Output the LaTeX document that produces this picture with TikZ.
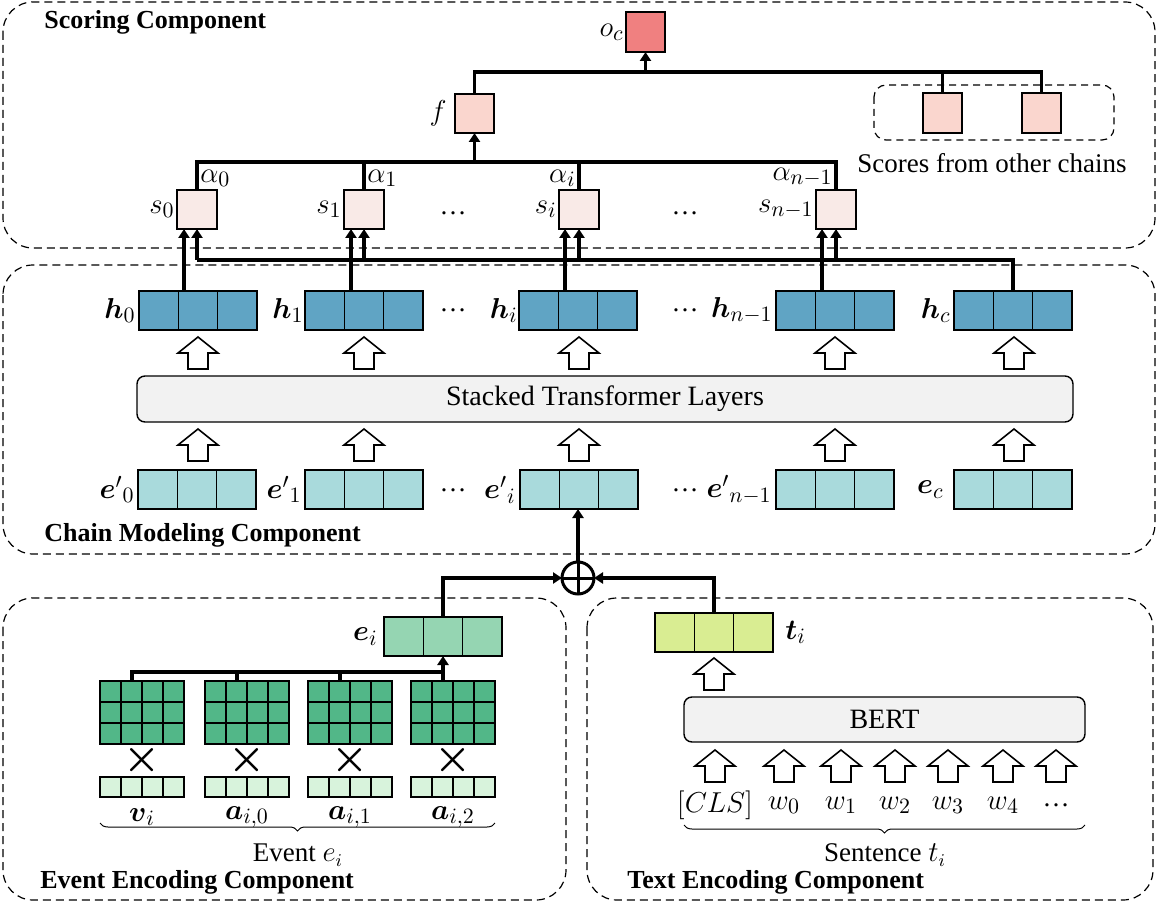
\documentclass[tikz,border=0pt]{standalone}
\usepackage{amsmath}
\usepackage{fontspec}
\setmainfont{Liberation Serif}
\usetikzlibrary{arrows.meta,calc,decorations.pathreplacing}
\definecolor{ocC}{RGB}{240,128,128}
\definecolor{fC}{RGB}{250,214,206}
\definecolor{sC}{RGB}{249,234,231}
\definecolor{hC}{RGB}{96,164,196}
\definecolor{epC}{RGB}{169,218,220}
\definecolor{eiC}{RGB}{149,213,178}
\definecolor{matC}{RGB}{82,183,136}
\definecolor{svC}{RGB}{216,243,220}
\definecolor{tiC}{RGB}{217,237,146}
\definecolor{layC}{RGB}{242,242,242}
\tikzset{
  base/.style={font=\fontsize{13.5}{16}\selectfont},
  title/.style={font=\fontsize{13}{15}\selectfont\bfseries, anchor=west, inner sep=0pt},
  comp/.style={draw, dash pattern=on 4pt off 2.5pt, line width=0.6pt, rounded corners=15pt},
  sq/.style={draw, line width=0.7pt, inner sep=0pt, outer sep=0pt, anchor=north west},
  vecthree/.style={sq, minimum width=59pt, minimum height=19.5pt,
    path picture={\foreach \k in {1,2}{\draw[line width=0.7pt]
      ($(path picture bounding box.south west)!\k/3!(path picture bounding box.south east)$) --
      ($(path picture bounding box.north west)!\k/3!(path picture bounding box.north east)$);}}},
  vecfour/.style={sq, minimum width=42pt, minimum height=10pt,
    path picture={\foreach \k in {1,2,3}{\draw[line width=0.7pt]
      ($(path picture bounding box.south west)!\k/4!(path picture bounding box.south east)$) --
      ($(path picture bounding box.north west)!\k/4!(path picture bounding box.north east)$);}}},
  matbox/.style={sq, fill=matC, minimum width=42pt, minimum height=31.5pt,
    path picture={\foreach \k in {1,2,3}{\draw[line width=0.7pt]
      ($(path picture bounding box.south west)!\k/4!(path picture bounding box.south east)$) --
      ($(path picture bounding box.north west)!\k/4!(path picture bounding box.north east)$);}
      \foreach \k in {1,2}{\draw[line width=0.7pt]
      ($(path picture bounding box.south west)!\k/3!(path picture bounding box.north west)$) --
      ($(path picture bounding box.south east)!\k/3!(path picture bounding box.north east)$);}}},
  layer/.style={draw, line width=0.7pt, fill=layC, rounded corners=4pt, inner sep=0pt, outer sep=0pt, anchor=north west},
  conn/.style={line width=1.6pt},
  arr/.style={conn, -{Triangle[width=5.5pt,length=4.5pt]}},
  lbl/.style={base, inner sep=1pt},
  mlbl/.style={font=\fontsize{15.5}{18}\selectfont, inner sep=1pt},
  holarrow/.pic={\draw[fill=white, line width=0.8pt] (-10,0) -- (-10,-16) -- (-20,-16) -- (0,-32) -- (20,-16) -- (10,-16) -- (10,0) -- cycle;},
  brc/.style={decorate, decoration={brace, mirror, amplitude=4pt}, line width=0.5pt}
}
\begin{document}
\begin{tikzpicture}[x=0.5pt,y=-0.5pt]
\useasboundingbox (0,0) rectangle (1158,904);
% ===== component frames
\draw[comp] (3,2) rectangle (1155,248);
\draw[comp] (3,265) rectangle (1155,554);
\draw[comp] (3,598) rectangle (566,900);
\draw[comp] (587,598) rectangle (1153,900);
\node[title] (t1) at (44,22) {Scoring Component};
\node[title] (t2) at (44,535) {Chain Modeling Component};
\node[title] (t3) at (40,882) {Event Encoding Component};
\node[title] (t4) at (627,882) {Text Encoding Component};

% ===== scoring
\node[sq, fill=ocC, minimum width=19.5pt, minimum height=20pt] (oc) at (626,12) {};
\node[sq, fill=fC, minimum width=19.5pt, minimum height=19.5pt] (f) at (455,94) {};
\node[sq, fill=fC, minimum width=19.5pt, minimum height=20pt] (o1) at (923,93) {};
\node[sq, fill=fC, minimum width=19.5pt, minimum height=20pt] (o2) at (1022,93) {};
\draw[dash pattern=on 3.5pt off 2.5pt, line width=0.6pt, rounded corners=6pt] (874,85) rectangle (1114,140);
\node[lbl] (sfoc) at (992,163) {Scores from other chains};
\node[mlbl, anchor=east] (loc) at (oc.west) {$o_c$};
\node[mlbl, anchor=east, inner sep=4pt] (lf) at (f.west) {$f$};

\foreach \n/\x in {s0/177, s1/344, si/559, sn/816}{
  \node[sq, fill=sC, minimum width=20pt, minimum height=19.5pt] (\n) at (\x,190) {};
}
\node[mlbl, anchor=east] (ls0) at (s0.west) {$s_0$};
\node[mlbl, anchor=east] (ls1) at (s1.west) {$s_1$};
\node[mlbl, anchor=east] (lsi) at (si.west) {$s_i$};
\node[mlbl, anchor=east] (lsn) at (sn.west) {$s_{n-1}$};
\node[mlbl, anchor=south west, inner sep=1.5pt] (la0) at (s0.north) {$\alpha_0$};
\node[mlbl, anchor=south west, inner sep=1.5pt] (la1) at (s1.north) {$\alpha_1$};
\node[mlbl, anchor=south east, inner sep=1.5pt] (lai) at (si.north) {$\alpha_i$};
\node[mlbl, anchor=south east, inner sep=1.5pt] (lan) at (sn.north) {$\alpha_{n-1}$};
\node[lbl] (d1) at (453,213) {\dots};
\node[lbl] (d2) at (685,213) {\dots};

\coordinate (busA) at (0,72);
\coordinate (busB) at (0,162);
\coordinate (busC) at (0,260);
\draw[conn] (f.north) -- (f.north |- busA) -- (o2.north |- busA) -- (o2.north);
\draw[conn] (o1.north) -- (o1.north |- busA);
\draw[arr] (oc.south |- busA) -- (oc.south);
\draw[conn] (s0.north) -- (s0.north |- busB) -- (sn.north |- busB) -- (sn.north);
\draw[conn] (s1.north) -- (s1.north |- busB);
\draw[conn] (si.north) -- (si.north |- busB);
\draw[arr] (f.south |- busB) -- (f.south);

% ===== chain modeling
\foreach \n/\x in {h0/139, h1/305, hi/519, hn/776, hc/954}{
  \node[vecthree, fill=hC] (\n) at (\x,291) {};
}
\foreach \n/\x in {e0/138, e1/305, ei2/520, en/776, ec/954}{
  \node[vecthree, fill=epC] (\n) at (\x,470) {};
}
\node[layer, minimum width=468pt, minimum height=23pt] (tr) at (137,376) {};
\node[base, font=\fontsize{14}{16}\selectfont] (trl) at (tr.center) {Stacked Transformer Layers};
\foreach \x in {198,364,579,835,1014}{
  \pic at (\x,369) {holarrow};
  \pic at (\x,461) {holarrow};
}
\node[mlbl, anchor=east, inner sep=1.5pt] (lh0) at (h0.west) {$\boldsymbol{h}_0$};
\node[mlbl, anchor=east, inner sep=0.5pt] (lh1) at (h1.west) {$\boldsymbol{h}_1$};
\node[mlbl, anchor=east, inner sep=0.5pt] (lhi) at (hi.west) {$\boldsymbol{h}_i$};
\node[mlbl, anchor=east, inner sep=1.5pt] (lhn) at (hn.west) {$\boldsymbol{h}_{n-1}$};
\node[mlbl, anchor=east, inner sep=1.5pt] (lhc) at (hc.west) {$\boldsymbol{h}_c$};
\node[lbl] (d3) at (453,310) {\dots};
\node[lbl] (d4) at (685,310) {\dots};
\node[mlbl, anchor=east, inner sep=1.5pt] (le0) at (e0.west) {${\boldsymbol{e}'}_0$};
\node[mlbl, anchor=east, inner sep=1.5pt] (le1) at (e1.west) {${\boldsymbol{e}'}_1$};
\node[mlbl, anchor=east, inner sep=2pt] (lei) at (ei2.west) {${\boldsymbol{e}'}_i$};
\node[mlbl, anchor=east, inner sep=2pt] (len) at (en.west) {${\boldsymbol{e}'}_{n-1}$};
\node[mlbl, anchor=east, inner sep=5pt] (lec) at (ec.west) {$\boldsymbol{e}_c$};
\node[lbl] (d5) at (453,490) {\dots};
\node[lbl] (d6) at (685,490) {\dots};

% h -> s connectors
\draw[conn] (hc.north) -- (hc.north |- busC) -- (s0.south |- busC);
\foreach \s in {s0,s1,si,sn}{
  \draw[arr] (\s.south |- busC) -- (\s.south);
}
\draw[arr] ([xshift=-6.5pt]s0.south |- h0.north) -- ([xshift=-6.5pt]s0.south);
\draw[arr] ([xshift=-6.5pt]s1.south |- h1.north) -- ([xshift=-6.5pt]s1.south);
\draw[arr] ([xshift=-7pt]si.south |- hi.north) -- ([xshift=-7pt]si.south);
\draw[arr] ([xshift=-7pt]sn.south |- hn.north) -- ([xshift=-7pt]sn.south);

% ===== event encoding
\node[vecthree, fill=eiC] (ei) at (384,617) {};
\node[mlbl, anchor=east, inner sep=3pt] (lei2) at (ei.west) {$\boldsymbol{e}_i$};
\foreach \n/\x/\lab in {m0/100/{\boldsymbol{v}_i}, m1/205/{\boldsymbol{a}_{i,0}}, m2/308/{\boldsymbol{a}_{i,1}}, m3/411/{\boldsymbol{a}_{i,2}}}{
  \node[matbox] (\n) at (\x,681) {};
  \node[vecfour, fill=svC] (v\n) at (\x,777) {};
  \node[font=\fontsize{20}{22}\selectfont, inner sep=0pt] (x\n) at ($(\n.south)!0.5!(v\n.north)$) {$\boldsymbol{\times}$};
  \node[mlbl] (l\n) at ($(v\n.south)+(0,20)$) {$\lab$};
}
\coordinate (busD) at (0,672);
\draw[conn] ([xshift=16pt]m0.north west) -- ([xshift=16pt]m0.north west |- busD) -- ([xshift=16pt]m3.north west |- busD);
\draw[conn] ([xshift=16pt]m1.north west) -- ([xshift=16pt]m1.north west |- busD);
\draw[conn] ([xshift=16pt]m2.north west) -- ([xshift=16pt]m2.north west |- busD);
\draw[arr] (m3.north west -| ei.south) -- (ei.south);
\draw[brc] (100,823) -- (495,823);
\node[lbl] (evt) at (298,855) {Event $e_i$};

% ===== text encoding
\node[vecthree, fill=tiC] (ti) at (655,613) {};
\node[mlbl, anchor=west, inner sep=6pt] (lti) at (ti.east) {$\boldsymbol{t}_i$};
\node[layer, minimum width=200.5pt, minimum height=22.5pt] (bert) at (684,697) {};
\node[base, font=\fontsize{14}{16}\selectfont] (bertl) at (bert.center) {BERT};
\pic at (714,690) {holarrow};
\foreach \x/\tok [count=\i] in {715/{[CLS]}, 784/{w_0}, 841/{w_1}, 895/{w_2}, 948/{w_3}, 1003/{w_4}}{
  \pic at (\x,782) {holarrow};
  \node[mlbl] (tok\i) at (\x,805) {$\tok$};
}
\pic at (1056,782) {holarrow};
\node[lbl] (tokd) at (1056,805) {\dots};
\draw[brc] (684,825) -- (1085,825);
\node[lbl] (sent) at (885,855) {Sentence $t_i$};

% ===== fusion
\node[draw, circle, line width=1.5pt, minimum size=16pt, inner sep=0pt, outer sep=0pt] (op) at (578,578) {};
\draw[line width=1.5pt] (op.north) -- (op.south) (op.west) -- (op.east);
\draw[arr] (ei.north) |- (op.west);
\draw[arr] (ti.north) |- (op.east);
\draw[arr] (op.north) -- (ei2.south -| op.north);
\end{tikzpicture}
\end{document}
